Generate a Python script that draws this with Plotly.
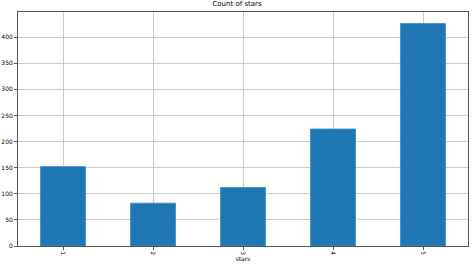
import plotly.graph_objects as go

categories = ["1", "2", "3", "4", "5"]
counts = [152, 82, 112, 224, 426]
y_ticks = [0, 50, 100, 150, 200, 250, 300, 350, 400]

fig = go.Figure(go.Bar(
    x=categories, y=counts, width=0.5,
    marker=dict(color="#1f77b4", line=dict(color="#3a8cc6", width=0.8)),
))

fig.update_layout(
    width=474, height=265,
    margin=dict(l=18, r=6, t=12, b=19),
    paper_bgcolor="white", plot_bgcolor="white",
    showlegend=False,
    title=dict(text="Count of stars", x=0.5, xanchor="center", y=0.995, yanchor="top",
               font=dict(family="DejaVu Sans", size=7, color="black")),
    font=dict(family="DejaVu Sans", size=6, color="black"),
)
fig.update_xaxes(
    type="category", range=[-0.5, 4.5], tickangle=90,
    showgrid=True, gridcolor="rgba(190,190,190,0.8)", gridwidth=0.8,
    showline=True, linecolor="#555", linewidth=1, mirror=True,
    ticks="outside", ticklen=3, tickcolor="#555",
    layer="above traces", automargin=False,
    title=dict(text="stars", standoff=1, font=dict(size=6, color="black")),
)
fig.update_yaxes(
    range=[0, 448], tickvals=y_ticks,
    showgrid=True, gridcolor="rgba(190,190,190,0.8)", gridwidth=0.8,
    showline=True, linecolor="#555", linewidth=1, mirror=True,
    ticks="outside", ticklen=3, tickcolor="#555",
    layer="above traces", zeroline=False, automargin=False,
)

fig.write_html("out.html")
